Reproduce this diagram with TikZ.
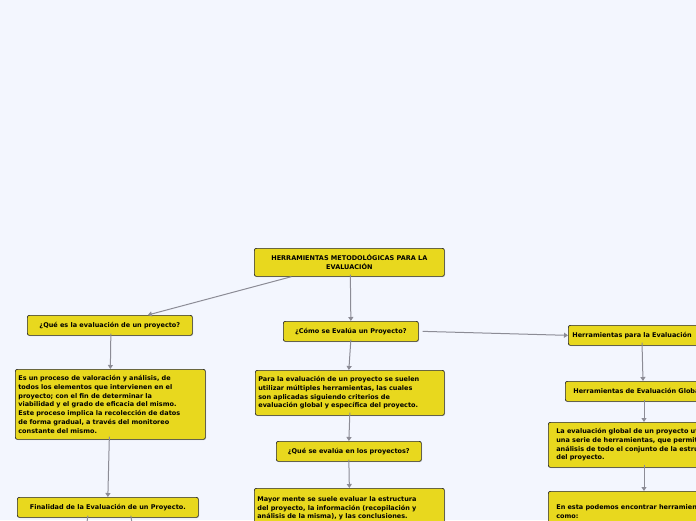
\documentclass[tikz,border=0pt]{standalone}
\usepackage{fontspec}
\setmainfont{DejaVu Sans}
\usetikzlibrary{arrows.meta,shadows}
\definecolor{bg}{HTML}{F3F6FE}
\definecolor{boxy}{HTML}{E8D81E}
\definecolor{arr}{HTML}{8C8C96}
\tikzset{
 box/.style={draw=black!85,line width=0.7pt,fill=boxy,rounded corners=2pt,inner sep=0pt,anchor=north west,
   font=\bfseries\fontsize{6.5}{8.7}\selectfont,drop shadow={shadow xshift=0.7pt,shadow yshift=-0.7pt,opacity=0.3}},
 conn/.style={draw=arr,line width=1pt,-{Triangle[width=5pt,length=4pt]}},
 stub/.style={draw=arr,line width=1pt}
}
\begin{document}
\begin{tikzpicture}[x=1pt,y=-1pt]
\useasboundingbox (0,0) rectangle (696,520);
\fill[bg] (0,0) rectangle (696,520);
\clip (0,0) rectangle (696,520);
% boxes
\node[box,minimum width=190pt,minimum height=28pt,align=center] (root) at (254,248) {HERRAMIENTAS METODOLÓGICAS PARA LA\\EVALUACIÓN};
\node[box,minimum width=165pt,minimum height=20pt] (q1) at (27,315) {¿Qué es la evaluación de un proyecto?};
\node[box,minimum width=135pt,minimum height=20pt] (q2) at (283,321) {¿Cómo se Evalúa un Proyecto?};
\node[box,minimum width=190pt,minimum height=70pt,text width=184pt,align=left,inner xsep=3pt] (def) at (15,369) {Es un proceso de valoración y análisis, de\\todos los elementos que intervienen en el\\proyecto; con el fin de determinar la\\viabilidad y el grado de eficacia del mismo.\\Este proceso implica la recolección de datos\\de forma gradual, a través del monitoreo\\constante del mismo.};
\node[box,minimum width=189pt,minimum height=45pt,text width=183pt,align=left,inner xsep=3pt] (para) at (255,370) {Para la evaluación de un proyecto se suelen\\utilizar múltiples herramientas, las cuales\\son aplicadas siguiendo criterios de\\evaluación global y específica del proyecto.};
\node[box,minimum width=145pt,minimum height=20pt] (qse) at (276,441) {¿Qué se evalúa en los proyectos?};
\node[box,minimum width=190pt,minimum height=40pt,text width=184pt,align=left,inner xsep=3pt,inner ysep=4pt] (mayor) at (254,488) {Mayor mente se suele evaluar la estructura\\del proyecto, la información (recopilación y\\análisis de la misma), y las conclusiones.};
\node[box,minimum width=181pt,minimum height=20pt] (fin) at (17,497) {Finalidad de la Evaluación de un Proyecto.};
\node[box,minimum width=150pt,minimum height=20pt,text width=142pt,align=left,inner xsep=4pt] (herr) at (568,325) {Herramientas para la Evaluación};
\node[box,minimum width=150pt,minimum height=20pt,text width=142pt,align=left,inner xsep=8pt] (hglob) at (565,381) {Herramientas de Evaluación Global};
\node[box,minimum width=200pt,minimum height=45pt,text width=192pt,align=left,inner xsep=8pt] (laev) at (548,422) {La evaluación global de un proyecto utiliza\\una serie de herramientas, que permiten el\\análisis de todo el conjunto de la estructura\\del proyecto.};
\node[box,minimum width=200pt,minimum height=40pt,text width=192pt,align=left,inner xsep=8pt,inner ysep=5pt] (enes) at (548,491) {En esta podemos encontrar herramientas\\como:};
% connectors
\coordinate (s1) at (86,530); \coordinate (s2) at (133,530);
\draw[conn] ([xshift=-58pt]root.south) -- ([xshift=38pt]q1.north);
\draw[conn] ([xshift=1pt,yshift=2pt]root.south) -- (q2.north);
\draw[conn] ([xshift=4pt]q2.east) -- (herr.west);
\draw[conn] ([xshift=1pt,yshift=2pt]q1.south) -- (def.north);
\draw[conn] ([xshift=-1pt,yshift=3pt]def.south) -- (fin.north);
\draw[conn] ([yshift=3pt]para.south) -- (qse.north);
\draw[conn] ([yshift=2pt]q2.south) -- ([xshift=-1pt]para.north);
\draw[conn] ([yshift=2pt]qse.south) -- ([xshift=-0pt]mayor.north);
\draw[conn] ([xshift=-1pt,yshift=3pt]herr.south west)++(75,0) -- ([xshift=78pt]hglob.north west);
\draw[conn] ([yshift=2pt]hglob.south west)++(79,0) -- ([xshift=96pt]laev.north west);
\draw[conn] ([yshift=3pt]laev.south west)++(96,0) -- ([xshift=96pt]enes.north west);
\draw[stub] ([xshift=-20pt,yshift=2pt]fin.south) -- (s1);
\draw[stub] ([xshift=23pt,yshift=2pt]fin.south) -- (s2);
\end{tikzpicture}
\end{document}
